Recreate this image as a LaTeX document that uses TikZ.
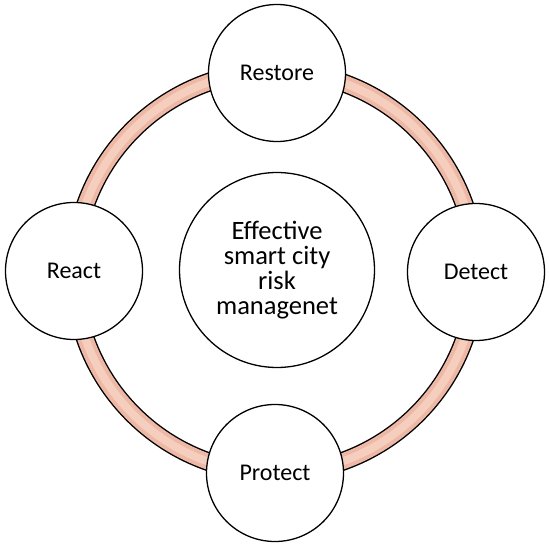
\documentclass[tikz,border=0pt]{standalone}
\usepackage{fontspec}
\setmainfont{Carlito}
\definecolor{ringpink}{RGB}{238,184,166}
\definecolor{ringlight}{RGB}{246,206,190}

\begin{document}
\begin{tikzpicture}[x=1pt,y=-1pt,
  stage/.style={circle,draw=black,line width=1.3pt,fill=white,minimum size=137pt,inner sep=0pt,
    font=\fontsize{24}{25}\selectfont},
  hub/.style={stage,minimum size=195pt,align=center,font=\fontsize{26.5}{25}\selectfont}]
\useasboundingbox (0,0) rectangle (550,548);
\coordinate (mid) at (275,272);
% ring behind the stages
\draw[line width=1.4pt,double=ringpink,double distance=16pt] (mid) circle (201pt);
\draw[ringlight,line width=8pt] (mid) circle (201pt);
\node[hub] (risk) at (277,270) {Effective\\smart city\\risk\\managenet};
\node[stage] (restore) at (277,73) {Restore};
\node[stage] (detect) at (476,272) {Detect};
\node[stage] (protect) at (275,473) {Protect};
\node[stage] (react) at (74,271) {React};
\end{tikzpicture}
\end{document}
